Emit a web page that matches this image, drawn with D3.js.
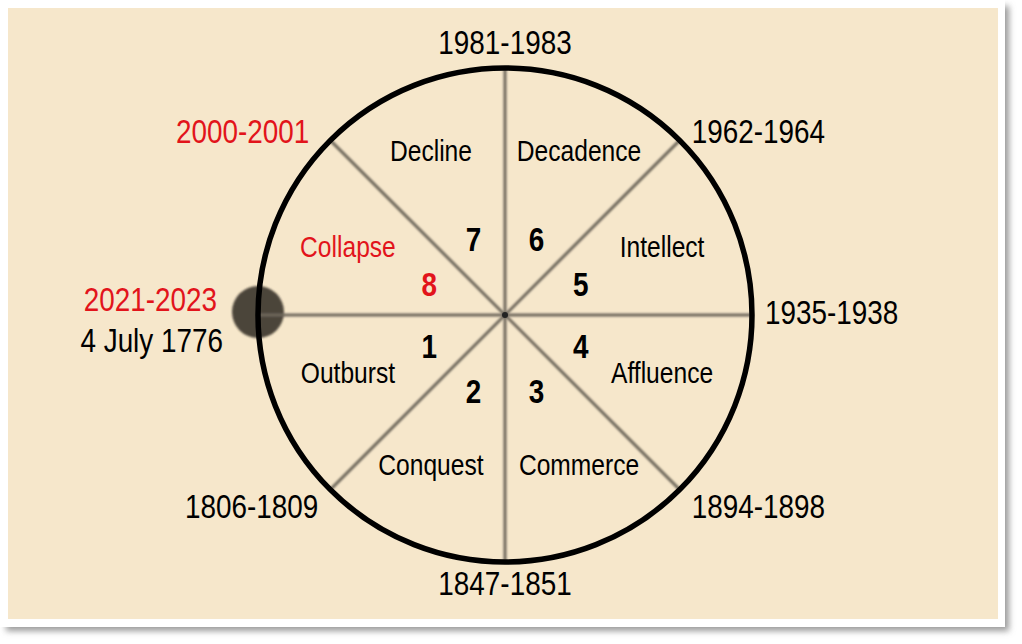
<!DOCTYPE html>
<html>
<head>
<meta charset="utf-8">
<script src="https://cdn.jsdelivr.net/npm/d3@7"></script>
<style>
  body { margin: 0; background: #fff; }
  text { font-family: "Liberation Sans", Arial, sans-serif; }
</style>
</head>
<body>
<div id="chart"></div>
<script>
// phases of the cycle, counted from 4 July 1776 going round
var phases = ["Outburst", "Conquest", "Commerce", "Affluence", "Intellect", "Decadence", "Decline", "Collapse"];
var phaseNumbers = [1, 2, 3, 4, 5, 6, 7, 8];
// years where each phase starts (boundary 0 is the founding)
var boundaryYears = ["4 July 1776", "1806-1809", "1847-1851", "1894-1898", "1935-1938", "1962-1964", "1981-1983", "2000-2001"];
var nowLabel = "2021-2023";
var redPhases = ["Collapse"];
var redYears = ["2000-2001"];

var width = 1022, height = 644;
var cx = 505, cy = 315, R = 247;
var red = "#e2141b";

var svg = d3.select("#chart").append("svg")
    .attr("width", width)
    .attr("height", height);

var defs = svg.append("defs");
defs.append("filter").attr("id", "shadow")
    .attr("x", "-5%").attr("y", "-5%").attr("width", "110%").attr("height", "110%")
  .append("feGaussianBlur").attr("stdDeviation", 3);
// user space region so flat lines (zero height bbox) still show
defs.append("filter").attr("id", "soft")
    .attr("filterUnits", "userSpaceOnUse")
    .attr("x", 0).attr("y", 0).attr("width", width).attr("height", height)
  .append("feGaussianBlur").attr("stdDeviation", 0.9);

// frame
svg.append("rect")
    .attr("x", 6).attr("y", 6).attr("width", 1003).attr("height", 625)
    .attr("fill", "#9a9a9a")
    .attr("filter", "url(#shadow)");
svg.append("rect")
    .attr("x", 0).attr("y", 0).attr("width", 1005).attr("height", 627)
    .attr("fill", "#fff");
svg.append("rect")
    .attr("x", 8).attr("y", 8).attr("width", 990).attr("height", 611)
    .attr("fill", "#f6e7cb");

// angle for a boundary index, screen coords (y down), going anticlockwise from the left
var angle = d3.scaleLinear().domain([0, 8]).range([Math.PI, -Math.PI]);

function pt(a, r) {
    return [cx + r * Math.cos(a), cy + r * Math.sin(a)];
}

var g = svg.append("g");

// marker dot for the present, sitting on the founding point
var start = pt(angle(0), R);
g.append("circle")
    .attr("cx", start[0])
    .attr("cy", start[1] - 3)
    .attr("r", 26)
    .attr("fill", "#3d372f")
    .attr("opacity", 0.92)
    .attr("filter", "url(#soft)");

// spokes
g.selectAll("line.spoke")
    .data(boundaryYears)
    .enter()
    .append("line")
    .attr("class", "spoke")
    .attr("x1", cx).attr("y1", cy)
    .attr("x2", function(d, i){ return pt(angle(i), R)[0]; })
    .attr("y2", function(d, i){ return pt(angle(i), R)[1]; })
    .attr("stroke", "#6e675c")
    .attr("stroke-width", 3)
    .attr("filter", "url(#soft)");

g.append("circle")
    .attr("cx", cx).attr("cy", cy).attr("r", 3)
    .attr("fill", "#222");

// the ring
g.append("circle")
    .attr("cx", cx).attr("cy", cy).attr("r", R)
    .attr("fill", "none")
    .attr("stroke", "#000")
    .attr("stroke-width", 5.5);

function narrow(x, y) {
    return "translate(" + x + "," + y + ") scale(0.82,1)";
}

// phase names
g.selectAll("text.phase")
    .data(phases)
    .enter()
    .append("text")
    .attr("class", "phase")
    .attr("transform", function(d, i){
        var a = angle(i + 0.5);
        var p = pt(a, 170);
        var c = Math.cos(a), s = Math.sin(a);
        // top and bottom names sit a bit wider of the vertical spoke
        var nx = Math.abs(s) > Math.abs(c) ? 9 * Math.sign(c) : 0;
        var ny = Math.abs(s) < Math.abs(c) && s < 0 ? 4 : 0;
        return narrow(p[0] + nx, p[1] + 3 + ny);
    })
    .attr("text-anchor", "middle")
    .attr("font-size", 30)
    .attr("fill", function(d){ return redPhases.indexOf(d) >= 0 ? red : "#000"; })
    .text(function(d){ return d; });

// phase numbers
g.selectAll("text.num")
    .data(phaseNumbers)
    .enter()
    .append("text")
    .attr("class", "num")
    .attr("transform", function(d, i){
        var p = pt(angle(i + 0.5), 82);
        return narrow(p[0], p[1] + 12);
    })
    .attr("text-anchor", "middle")
    .attr("font-size", 34)
    .attr("font-weight", "bold")
    .attr("fill", function(d, i){ return redPhases.indexOf(phases[i]) >= 0 ? red : "#000"; })
    .text(function(d){ return d; });

// boundary years (index 0 gets its own two-line label beside the dot)
g.selectAll("text.year")
    .data(boundaryYears.slice(1))
    .enter()
    .append("text")
    .attr("class", "year")
    .attr("transform", function(d, i){
        var a = angle(i + 1);
        var c = Math.cos(a), s = Math.sin(a);
        var p = pt(a, R + 17);
        var dy = s < -0.9 ? 3 : (Math.abs(s) < 0.1 ? 9 : (s < 0 ? 15 : 16));
        var dx = c > 0.9 ? -4 : (c < -0.3 && s < -0.3 ? -9 : 0);
        return narrow(p[0] + dx, p[1] + dy);
    })
    .attr("text-anchor", function(d, i){
        var c = Math.cos(angle(i + 1));
        return c > 0.3 ? "start" : (c < -0.3 ? "end" : "middle");
    })
    .attr("font-size", 34)
    .attr("fill", function(d){ return redYears.indexOf(d) >= 0 ? red : "#000"; })
    .text(function(d){ return d; });

var lx = start[0] - 38;
g.append("text")
    .attr("transform", narrow(lx - 3, start[1] - 4))
    .attr("text-anchor", "end")
    .attr("font-size", 34)
    .attr("fill", red)
    .text(nowLabel);
g.append("text")
    .attr("transform", narrow(lx + 3, start[1] + 37))
    .attr("text-anchor", "end")
    .attr("font-size", 34)
    .attr("fill", "#000")
    .text(boundaryYears[0]);
</script>
</body>
</html>
